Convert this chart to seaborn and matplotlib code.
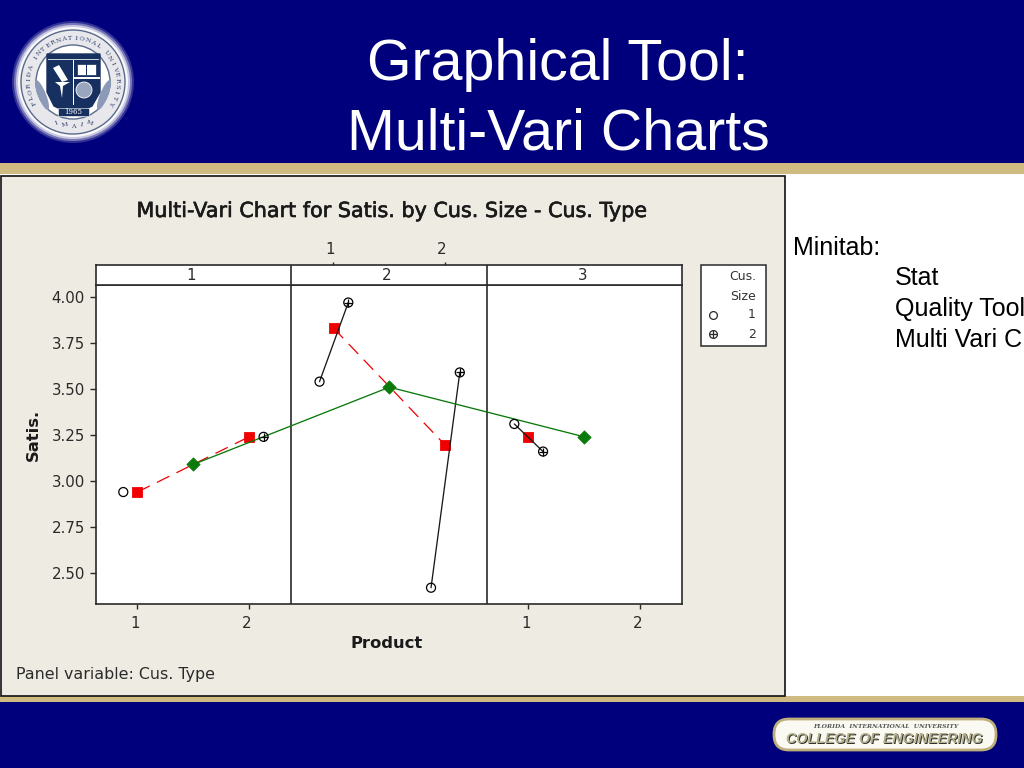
import numpy as np
import pandas as pd
import matplotlib
matplotlib.use("Agg")
import matplotlib.pyplot as plt
import matplotlib.patheffects as pe
from matplotlib.patches import Circle, Rectangle, Polygon, FancyBboxPatch, Ellipse
from matplotlib.transforms import ScaledTranslation
import seaborn as sns

# ---- data ----
size_panel = [1, 1, 2, 2, 2, 2, 3, 3]
size_product = [1, 2, 1, 1, 2, 2, 1, 1]
size_level = [1, 2, 1, 2, 1, 2, 1, 2]
size_satis = [2.94, 3.24, 3.54, 3.97, 2.42, 3.59, 3.31, 3.16]

product_panel = [1, 1, 2, 2, 3]
product_level = [1, 2, 1, 2, 1]
product_satis = [2.94, 3.24, 3.83, 3.195, 3.24]

type_levels = [1, 2, 3]
type_satis = [3.09, 3.51, 3.24]

y_ticks = [2.50, 2.75, 3.00, 3.25, 3.50, 3.75, 4.00]
product_ticks = ["1", "2"]
legend_levels = ["1", "2"]

title_lines = ["Graphical Tool:", "Multi-Vari Charts"]
side_lines = ["Stat", "Quality Tool", "Multi Vari C"]

# ---- layout ----
W, H = 1024, 768
NAVY = "#00007C"
GOLD = "#CFBB82"
PAPER = "#EEEBE2"
RED = "#F00000"
GREEN = "#0A7A0A"
INK = "#2A2A2A"
CHART = "DejaVu Sans"
SLIDE = "Liberation Sans"
PANEL_SHIFT = {1: 0.0, 2: 1.76, 3: 3.507}
SIZE_SHIFT = {1: -0.123, 2: 0.135}
MEAN_SHIFT = 0.004
UNIT = 111.5
XL = (1 - 41 / UNIT, 1 - 41 / UNIT + 586 / UNIT)
YL = (4 - 307 / 184, 4 + 12 / 184)

sns.set_theme(style="white")
plt.rcParams["font.family"] = [CHART]

fig = plt.figure(figsize=(W / 100, H / 100), dpi=100, facecolor=NAVY)


def px_axes(x0, y0, x1, y1, **kw):
    return fig.add_axes([x0 / W, 1 - y1 / H, (x1 - x0) / W, (y1 - y0) / H], **kw)


def nudge(labels, dx_px):
    for lab in labels:
        lab.set_transform(lab.get_transform() + ScaledTranslation(dx_px / 100, 0, fig.dpi_scale_trans))


bg = px_axes(0, 0, W, H)
bg.set_xlim(0, W)
bg.set_ylim(H, 0)
bg.axis("off")
bg.add_patch(Rectangle((0, 0), W, H, color=NAVY, lw=0))
bg.add_patch(Rectangle((0, 163), W, 11, color=GOLD, lw=0))
bg.add_patch(Rectangle((0, 174), W, 522, color="white", lw=0))
bg.add_patch(Rectangle((0, 696), W, 6, color=GOLD, lw=0))
bg.add_patch(Rectangle((0.5, 175.5), 784, 520, fc=PAPER, ec="#111111", lw=1.2))

# slide title and side note
for txt, yy in zip(title_lines, [65, 134]):
    bg.text(558, yy, txt, color="white", family=SLIDE, fontsize=41.3, ha="center", va="center")
bg.text(793, 248, "Minitab:", color="black", family=SLIDE, fontsize=18, ha="left", va="center")
for txt, yy in zip(side_lines, [278, 309, 340]):
    bg.text(895, yy, txt, color="black", family=SLIDE, fontsize=18, ha="left", va="center")

# university seal
cx, cy = 73, 82
for r, a in zip([61, 59, 57, 55], [0.2, 0.35, 0.6, 0.9]):
    bg.add_patch(Circle((cx, cy), r, fc="white", ec="none", alpha=a))
bg.add_patch(Circle((cx, cy), 52, fc="#E8E8EC", ec="#5A6A8A", lw=1))
bg.add_patch(Circle((cx, cy), 37, fc="white", ec="#5A6A8A", lw=1))
ring_top = "FLORIDA INTERNATIONAL UNIVERSITY"
for i, ch in enumerate(ring_top):
    ang = np.deg2rad(-118 + 236 * i / (len(ring_top) - 1))
    bg.text(cx + 44 * np.sin(ang), cy - 44 * np.cos(ang), ch, fontsize=4.6, family="DejaVu Serif",
            color="#33456E", ha="center", va="center", rotation=-np.rad2deg(ang))
for i, ch in enumerate("MIAMI"):
    ang = np.deg2rad(-22 + 44 * i / 4)
    bg.text(cx - 44 * np.sin(ang), cy + 44 * np.cos(ang), ch, fontsize=4.6, family="DejaVu Serif",
            color="#33456E", ha="center", va="center", rotation=np.rad2deg(ang))
for side in (-1, 1):
    bg.add_patch(Ellipse((cx + side * 31, 95), 8, 32, angle=side * 22, fc="#8C9AB8", ec="none"))
bg.add_patch(Polygon([(47, 54), (100, 54), (100, 92), (92, 106), (73, 115), (54, 106), (47, 92)],
                     closed=True, fc="#17305F", ec="#17305F"))
bg.add_patch(Rectangle((48, 59), 51, 1.2, color="#C8CEDA", lw=0))
bg.add_patch(Rectangle((72.5, 60), 1.5, 45, color="white", lw=0))
bg.add_patch(Rectangle((73, 77), 27, 1.5, color="white", lw=0))
bg.add_patch(Rectangle((77, 64), 19, 11, fc="white", ec="#17305F", lw=0.5))
bg.add_patch(Rectangle((86, 64), 0.8, 11, color="#17305F", lw=0))
bg.add_patch(Polygon([(53, 68), (59, 65), (68, 80), (62, 82)], closed=True, fc="white", ec="none"))
bg.add_patch(Polygon([(55, 82), (70, 82), (63, 86), (62, 98), (60, 86)], closed=True, fc="white", ec="none"))
bg.add_patch(Circle((84, 90), 8, fc="#9AA6BE", ec="white", lw=0.6))
bg.add_patch(Rectangle((58, 108), 31, 8, fc="#17305F", ec="white", lw=0.4))
bg.text(73.5, 112, "1965", fontsize=5, color="white", ha="center", va="center", family="DejaVu Serif")

# college badge
bg.add_patch(FancyBboxPatch((774, 719), 222, 31, boxstyle="round,pad=0,rounding_size=15",
                            fc="#FBFAF2", ec="#BDAE7A", lw=2))
bg.text(885.5, 726, "FLORIDA  INTERNATIONAL  UNIVERSITY", fontsize=4.4, family="DejaVu Serif",
        style="italic", weight="bold", color="#555555", ha="center", va="center")
bg.text(885, 739.8, "COLLEGE OF ENGINEERING", fontsize=10.3, family=SLIDE, style="italic",
        weight="bold", color="#333333", ha="center", va="center")
bg.text(884.3, 739, "COLLEGE OF ENGINEERING", fontsize=10.3, family=SLIDE, style="italic",
        weight="bold", color="#B4B08C", ha="center", va="center")

# ---- frames built from the value arrays ----
sizes = pd.DataFrame({"panel": size_panel, "product": size_product, "level": size_level, "satis": size_satis})
sizes["x"] = sizes["panel"].map(PANEL_SHIFT) + sizes["product"] + sizes["level"].map(SIZE_SHIFT)
sizes["group"] = sizes["panel"] * 10 + sizes["product"]
products = pd.DataFrame({"panel": product_panel, "product": product_level, "satis": product_satis})
products["x"] = products["panel"].map(PANEL_SHIFT) + products["product"] + MEAN_SHIFT
types = pd.DataFrame({"panel": type_levels, "satis": type_satis})
types["x"] = types["panel"].map(PANEL_SHIFT) + 1.5 + MEAN_SHIFT

ax = px_axes(96, 285, 682, 604, facecolor="white")
sns.scatterplot(data=types, x="x", y="satis", marker="D", s=46, color=GREEN, edgecolor=GREEN, ax=ax,
                legend=False, zorder=5)
sns.scatterplot(data=products, x="x", y="satis", marker="s", s=56, color=RED, edgecolor=RED, ax=ax,
                legend=False, zorder=5)
sns.lineplot(data=sizes, x="x", y="satis", units="group", estimator=None, color="#1A1A1A", lw=0.95,
             sort=False, ax=ax, legend=False, zorder=6)
sns.lineplot(data=types, x="x", y="satis", color=GREEN, lw=0.95, estimator=None, sort=False, ax=ax,
             legend=False, zorder=7)
for p, grp in products.groupby("panel"):
    ax.plot(grp["x"], grp["satis"], color=RED, lw=0.9, dashes=(11, 6.4), zorder=4)
sns.scatterplot(data=sizes, x="x", y="satis", marker="o", s=42, facecolor="none", edgecolor="black",
                linewidth=0.9, ax=ax, legend=False, zorder=8)
sns.scatterplot(data=sizes[sizes["level"] == 2], x="x", y="satis", marker="+", s=40, color="black",
                linewidth=0.9, ax=ax, legend=False, zorder=9)

ax.set_xlim(*XL)
ax.set_ylim(*YL)
div1 = XL[0] + 195 / UNIT
div2 = XL[0] + 391.3 / UNIT
ax.axvline(div1, color=INK, lw=1.2)
ax.axvline(div2, color=INK, lw=1.2)
ax.set_yticks(y_ticks)
ax.set_yticklabels([f"{v:.2f}" for v in y_ticks], fontsize=10.8, color=INK)
bottom_x = [PANEL_SHIFT[1] + 1, PANEL_SHIFT[1] + 2, PANEL_SHIFT[3] + 1, PANEL_SHIFT[3] + 2]
ax.set_xticks(bottom_x)
ax.set_xticklabels(product_ticks * 2, fontsize=10.8, color=INK)
ax.tick_params(axis="x", length=3.5, width=1, color=INK, bottom=True, pad=5)
ax.tick_params(axis="y", length=4.5, width=1, color=INK, left=True, pad=3.5)
nudge(ax.get_xticklabels(), -2)
ax.set_xlabel("")
ax.set_ylabel("")
for s in ax.spines.values():
    s.set_color(INK)
    s.set_linewidth(1.2)

strip = px_axes(96, 265, 682, 285, facecolor="white")
strip.set_xlim(*XL)
strip.set_ylim(0, 1)
strip.axvline(div1, color=INK, lw=1.2)
strip.axvline(div2, color=INK, lw=1.2)
for cxp, lab in zip([(XL[0] + div1) / 2, (div1 + div2) / 2, (div2 + XL[1]) / 2], type_levels):
    strip.text(cxp - 2 / UNIT, 0.5, str(lab), fontsize=10.8, ha="center", va="center", color=INK)
strip.set_yticks([])
strip.set_xticks([PANEL_SHIFT[2] + 1, PANEL_SHIFT[2] + 2])
strip.set_xticklabels(product_ticks, fontsize=10.8, color=INK)
strip.tick_params(axis="x", top=True, bottom=False, labeltop=True, labelbottom=False,
                  length=2.5, width=1, color=INK, pad=3)
nudge(strip.get_xticklabels(), -3)
for s in strip.spines.values():
    s.set_color(INK)
    s.set_linewidth(1.2)

# chart texts on the grey panel
over = px_axes(0, 0, W, H)
over.set_xlim(0, W)
over.set_ylim(H, 0)
over.axis("off")
over.patch.set_alpha(0)
over.text(391, 211, "Multi-Vari Chart for Satis. by Cus. Size - Cus. Type", fontsize=14.9,
          ha="center", va="center", color="#1A1A1A",
          path_effects=[pe.withStroke(linewidth=0.45, foreground="#1A1A1A")])
over.text(16, 675, "Panel variable: Cus. Type", fontsize=11.4, ha="left", va="center", color=INK)
over.text(386.5, 643, "Product", fontsize=11.8, weight="bold", ha="center", va="center", color="#1A1A1A")
over.text(33, 435, "Satis.", fontsize=11.8, weight="bold", ha="center", va="center", rotation=90, color="#1A1A1A")

# legend box
over.add_patch(Rectangle((701, 265), 65, 81, fc="white", ec=INK, lw=1.1))
over.text(756, 277, "Cus.", fontsize=9, ha="right", va="center", color="#333333")
over.text(756, 296, "Size", fontsize=9, ha="right", va="center", color="#333333")
for lab, yy in zip(legend_levels, [315, 334]):
    over.text(756, yy, lab, fontsize=9, ha="right", va="center", color="#333333")
    over.plot([713], [yy], marker="o", ms=5.6, mfc="white", mec=INK, mew=0.9)
over.plot([713], [334], marker="+", ms=5.6, mec=INK, mew=0.9)

fig.savefig("out.png", dpi=100, facecolor=NAVY)
